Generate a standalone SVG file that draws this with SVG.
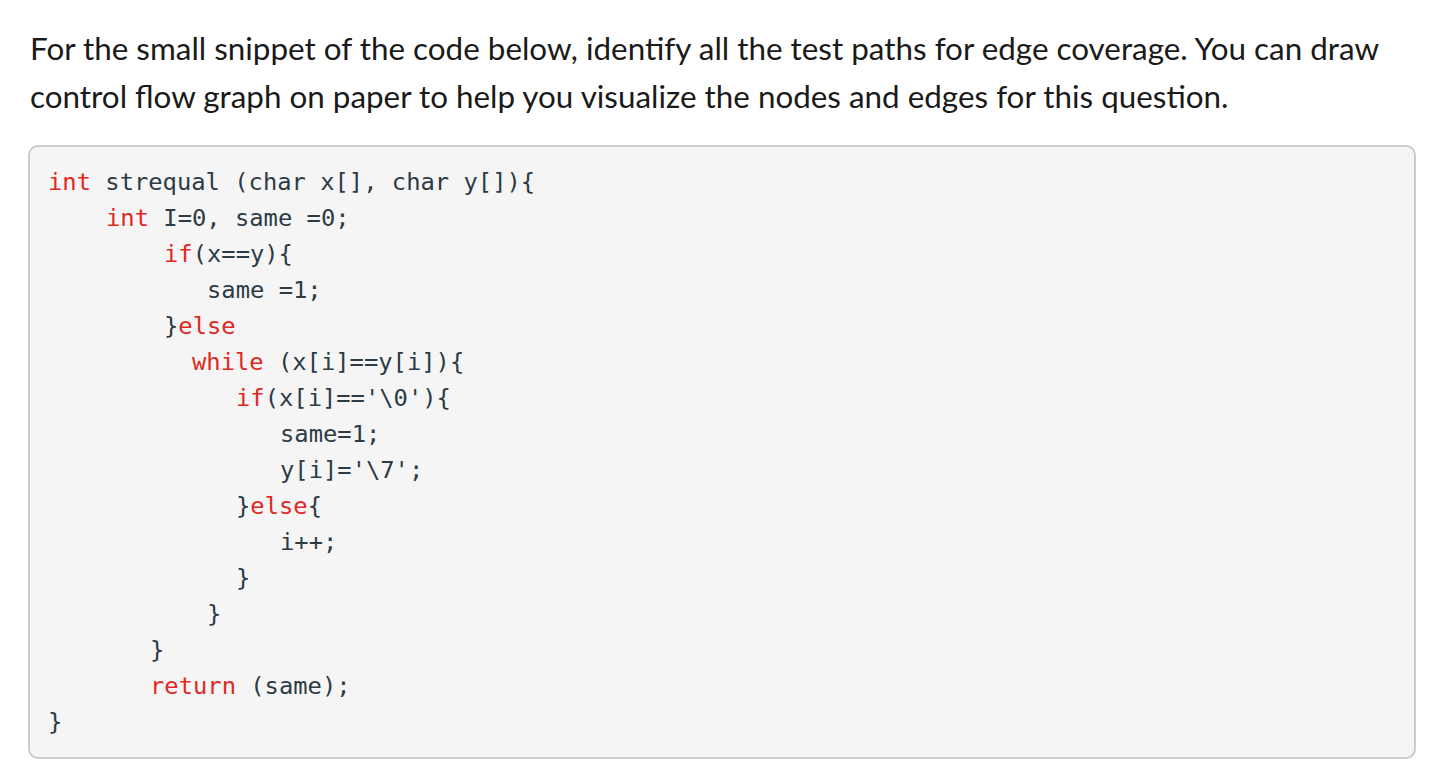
<svg xmlns="http://www.w3.org/2000/svg" width="1430" height="778" viewBox="0 0 1430 778">
<style>
.q{font-family:Lato,"Open Sans",sans-serif;font-size:31.4px;fill:#1a1a1a}
.c{font-family:"DejaVu Sans Mono","Liberation Mono",monospace;font-size:23.8px;fill:#2d3b45}
.k{fill:#e0291f}
</style>
<rect width="1430" height="778" fill="#ffffff"/>
<g id="question">
<text class="q" x="30" y="60">For the small snippet of the code below, identify all the test paths for edge coverage. You can draw</text>
<text class="q" x="30" y="108">control flow graph on paper to help you visualize the nodes and edges for this question.</text>
</g>
<g id="codebox">
<rect x="29" y="146" width="1386" height="612" rx="9" fill="#f5f5f5" stroke="#c7cdd1" stroke-width="2"/>
</g>
<g id="code" xml:space="preserve">
<text class="c" x="48" y="190"><tspan class="k">int</tspan> strequal (char x[], char y[]){</text>
<text class="c" x="106" y="226"><tspan class="k">int</tspan> I=0, same =0;</text>
<text class="c" x="164" y="262"><tspan class="k">if</tspan>(x==y){</text>
<text class="c" x="207" y="298">same =1;</text>
<text class="c" x="164" y="334">}<tspan class="k">else</tspan></text>
<text class="c" x="192" y="370"><tspan class="k">while</tspan> (x[i]==y[i]){</text>
<text class="c" x="236" y="406"><tspan class="k">if</tspan>(x[i]=='\0'){</text>
<text class="c" x="280" y="442">same=1;</text>
<text class="c" x="280" y="478">y[i]='\7';</text>
<text class="c" x="236" y="514">}<tspan class="k">else</tspan>{</text>
<text class="c" x="280" y="550">i++;</text>
<text class="c" x="236" y="586">}</text>
<text class="c" x="207" y="622">}</text>
<text class="c" x="150" y="658">}</text>
<text class="c" x="150" y="694"><tspan class="k">return</tspan> (same);</text>
<text class="c" x="48" y="730">}</text>
</g>
</svg>
